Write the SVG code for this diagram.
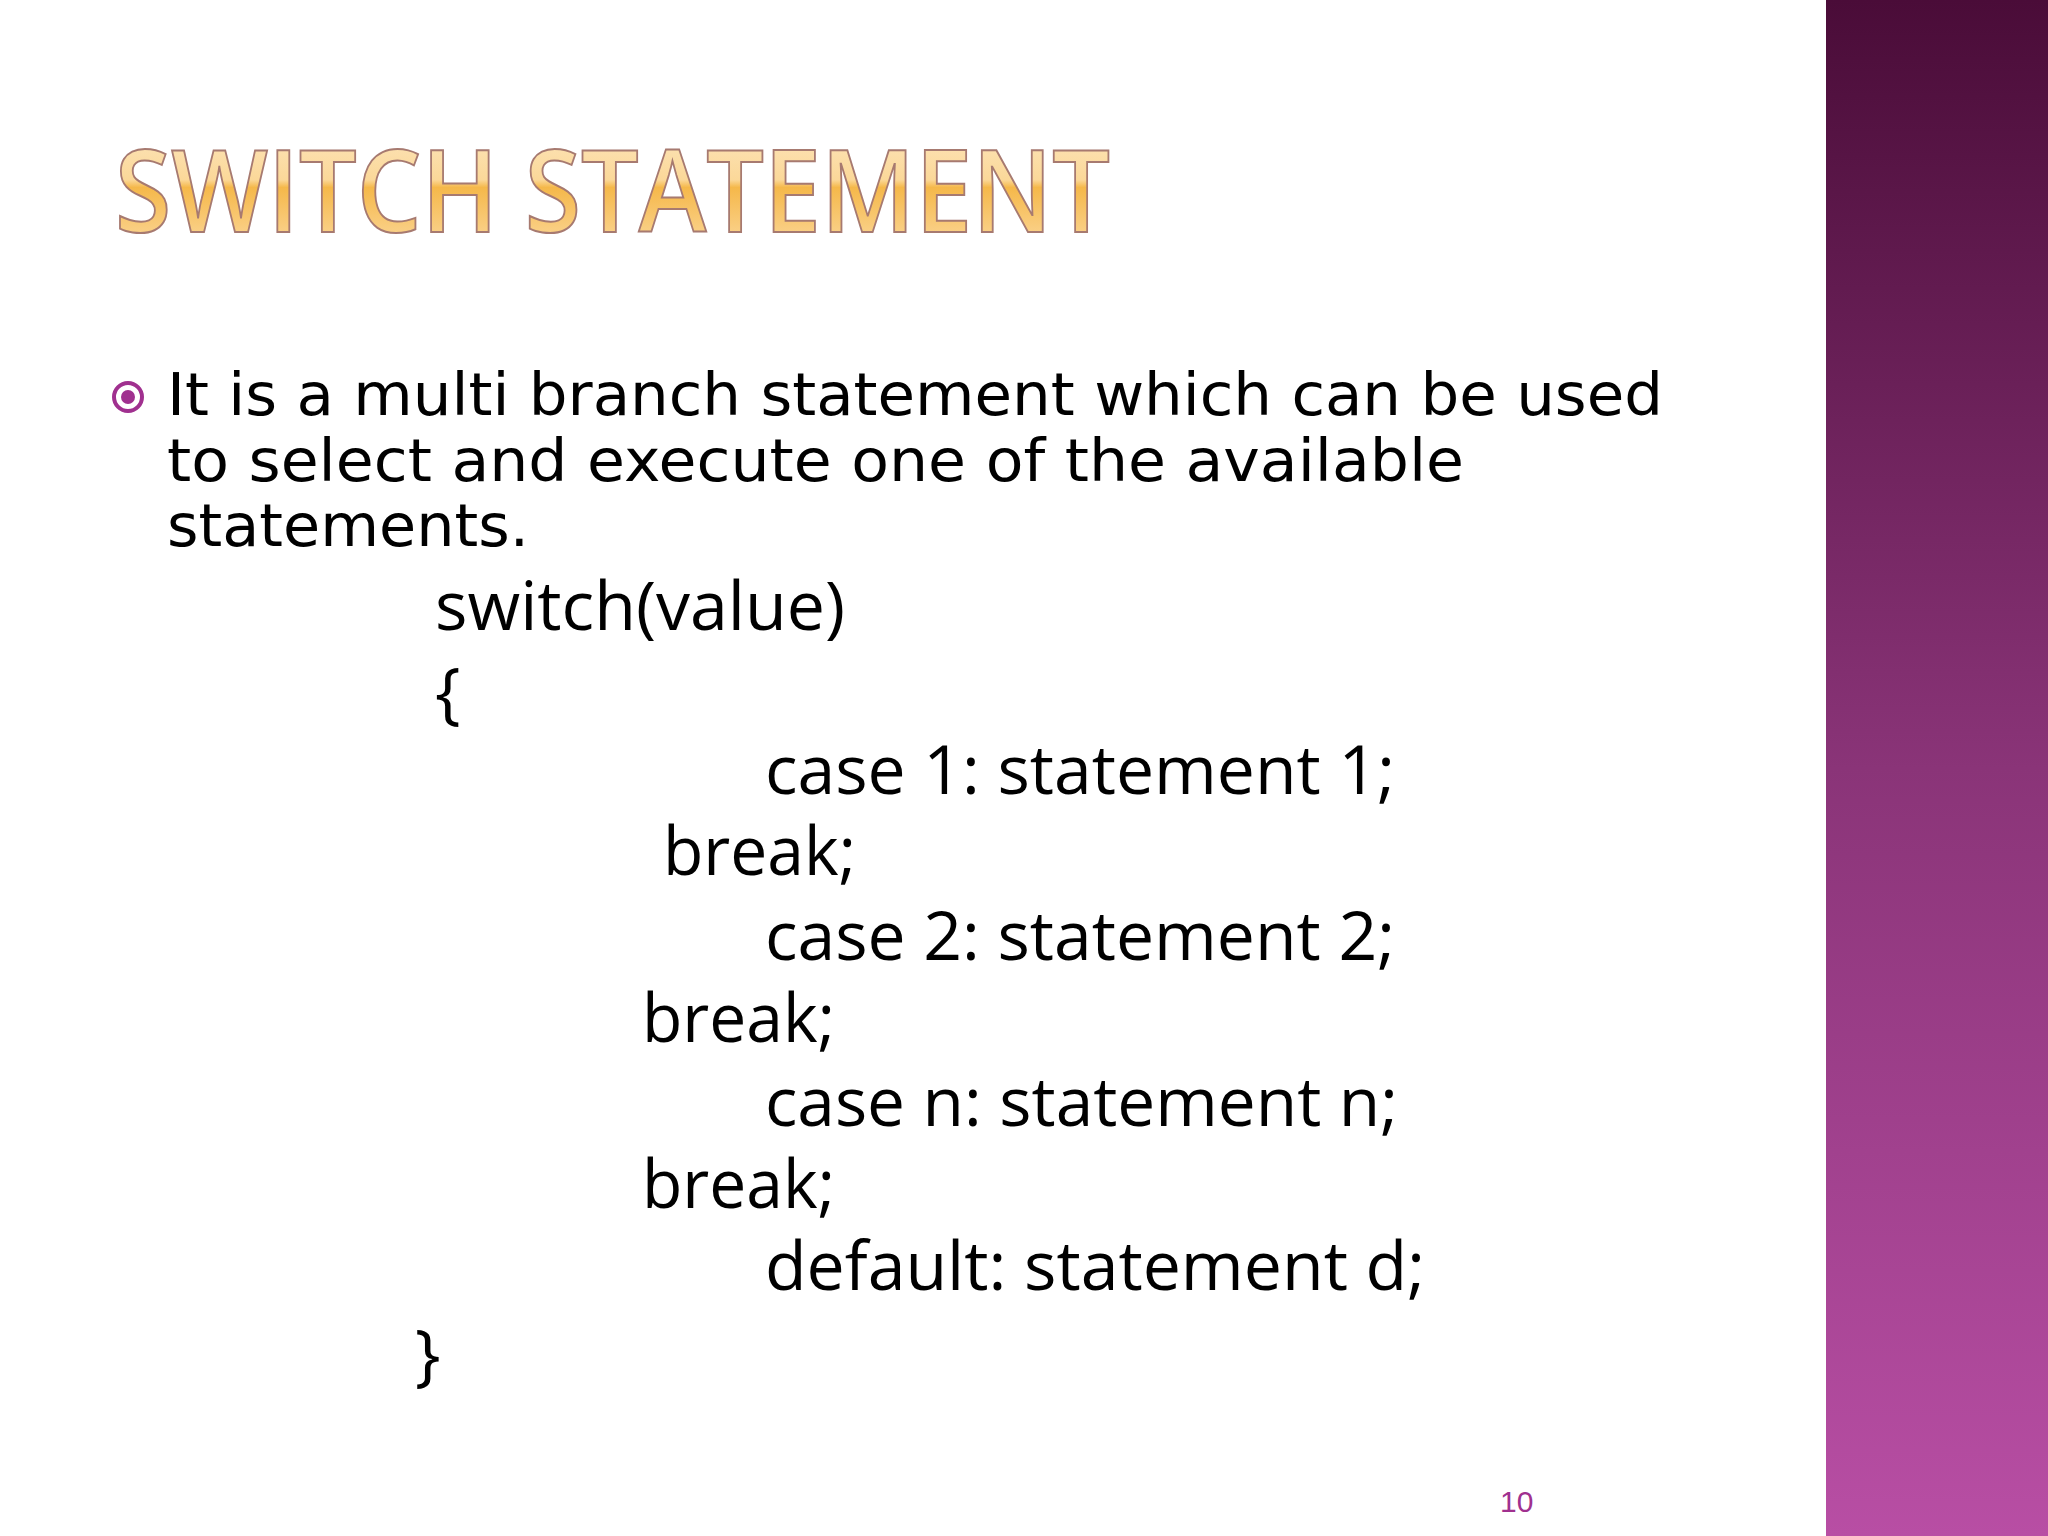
<svg xmlns="http://www.w3.org/2000/svg" width="2048" height="1536" viewBox="0 0 2048 1536">
<defs>
<linearGradient id="band" x1="0" y1="0" x2="0" y2="1">
<stop offset="0" stop-color="#4a0c38"/><stop offset="0.5" stop-color="#8a3478"/><stop offset="1" stop-color="#b84ea4"/>
</linearGradient>
<linearGradient id="gold" x1="0" y1="0" x2="0" y2="1">
<stop offset="0" stop-color="#fde9c6"/><stop offset="0.45" stop-color="#fbd899"/><stop offset="0.5" stop-color="#f5b84a"/><stop offset="1" stop-color="#fde0b0"/>
</linearGradient>
<style>
.b{font-family:"DejaVu Sans",sans-serif;font-size:59px;fill:#000}
.c{font-family:"Open Sans","Liberation Sans",sans-serif;font-size:68px;fill:#000}
</style>
</defs>
<rect width="2048" height="1536" fill="#fff"/>
<rect x="1826" y="0" width="222" height="1536" fill="url(#band)"/>
<text x="115" y="232" font-family="'Open Sans',sans-serif" font-weight="600" font-size="114" fill="url(#gold)" stroke="#a77a70" stroke-width="2" textLength="995" lengthAdjust="spacingAndGlyphs">SWITCH STATEMENT</text>
<g id="bullet"><circle cx="128" cy="397" r="14" fill="none" stroke="#a0308f" stroke-width="4"/><circle cx="128" cy="397" r="7" fill="#a0308f"/></g>
<text class="b" x="167" y="415" textLength="1496" lengthAdjust="spacingAndGlyphs">It is a multi branch statement which can be used</text>
<text class="b" x="167" y="481" textLength="1297" lengthAdjust="spacingAndGlyphs">to select and execute one of the available</text>
<text class="b" x="167" y="546" textLength="362" lengthAdjust="spacingAndGlyphs">statements.</text>
<text class="c" x="435" y="630" textLength="410" lengthAdjust="spacingAndGlyphs">switch(value)</text>
<text class="c" x="435" y="716">{</text>
<text class="c" x="765" y="794" textLength="630" lengthAdjust="spacingAndGlyphs">case 1: statement 1;</text>
<text class="c" x="663" y="875" textLength="193" lengthAdjust="spacingAndGlyphs">break;</text>
<text class="c" x="765" y="960" textLength="630" lengthAdjust="spacingAndGlyphs">case 2: statement 2;</text>
<text class="c" x="642" y="1042" textLength="193" lengthAdjust="spacingAndGlyphs">break;</text>
<text class="c" x="765" y="1126" textLength="633" lengthAdjust="spacingAndGlyphs">case n: statement n;</text>
<text class="c" x="642" y="1208" textLength="193" lengthAdjust="spacingAndGlyphs">break;</text>
<text class="c" x="765" y="1290" textLength="660" lengthAdjust="spacingAndGlyphs">default: statement d;</text>
<text class="c" x="415" y="1378">}</text>
<text x="1500" y="1512" font-family="'Liberation Sans',sans-serif" font-size="30" fill="#a0308f">10</text>
</svg>
